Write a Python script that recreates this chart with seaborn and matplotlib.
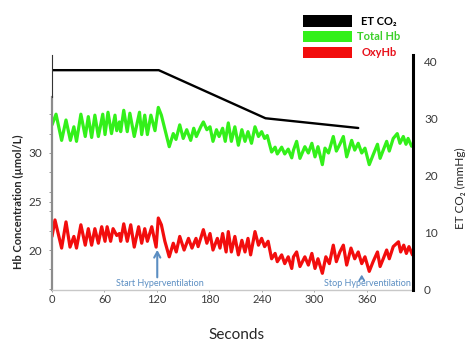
import numpy as np
import pandas as pd
import seaborn as sns
import matplotlib
matplotlib.use("Agg")
import matplotlib.pyplot as plt
from matplotlib.patches import Rectangle

# ---------------- data ----------------
green_t = [0, 4.6, 11, 16, 21, 25, 28, 33, 38, 41.5, 45.3, 49, 53, 58, 60.6, 64, 68, 72, 74, 77,
           78.5, 82, 86, 89, 94, 100, 102.5, 106, 109, 113, 117.7, 121.5, 125, 134, 138.6, 141.7,
           146, 150, 154, 158.5, 162, 165, 170, 173, 177, 180.6, 184, 188, 191, 195, 198, 201.5,
           205, 209, 213, 217, 220.6, 224, 228, 232, 236, 239.6, 243, 246, 251, 255, 257.5, 262.5,
           266, 270, 274, 276, 279.6, 283.4, 289, 293, 297, 300.6, 304, 309, 312, 316, 321.5, 325,
           329, 333, 336.8, 342.5, 346, 350, 354, 357.7, 362.6, 367, 372, 375, 378.6, 382.5, 385.5,
           390, 394.6, 397.7, 401.5, 404.6, 407, 411]
total_hb = [32.9, 34.0, 31.3, 33.4, 31.3, 32.7, 31.2, 34.0, 31.7, 33.75, 31.6, 33.9, 31.7, 34.0,
            31.9, 34.2, 32.0, 33.9, 32.3, 33.2, 32.2, 34.4, 32.2, 34.1, 31.7, 34.2, 31.9, 33.9,
            31.9, 33.9, 32.3, 34.7, 33.9, 30.65, 32.0, 31.4, 32.9, 31.5, 32.4, 31.3, 32.55, 31.7,
            32.7, 33.2, 32.4, 32.7, 31.2, 32.4, 31.7, 32.55, 31.2, 33.1, 31.2, 32.7, 30.8, 32.4,
            31.2, 32.2, 31.0, 32.7, 31.7, 32.2, 31.5, 31.8, 30.1, 30.6, 29.9, 30.6, 29.9, 30.4,
            29.5, 30.3, 31.2, 29.45, 30.65, 30.0, 31.0, 29.6, 30.65, 28.8, 30.5, 30.0, 31.7, 30.2,
            30.9, 31.7, 29.6, 31.3, 30.3, 31.0, 30.0, 30.5, 28.8, 29.8, 30.9, 29.45, 30.3, 31.2,
            30.2, 31.5, 32.0, 31.0, 31.7, 30.9, 31.5, 30.7]

red_t = [0, 3.4, 11, 16, 20.6, 25, 28, 33, 38, 41.5, 45.3, 49, 53, 56.8, 60.6, 63, 67, 69.8, 74, 77,
         78.5, 82, 86, 90, 94, 99, 102.5, 106, 109, 114, 119, 121.5, 125, 129, 134, 138.6, 142, 146,
         151, 156, 160, 164.6, 167, 173, 177, 180.6, 184, 189, 192, 195, 199, 201.5, 205, 209, 213,
         217, 220.6, 224, 227, 232, 236, 239.6, 243, 247, 251, 255, 257.5, 262.5, 266, 270, 274, 276,
         279.6, 283.4, 289, 293, 297, 300.6, 304, 309, 313, 317, 321.5, 325, 329, 333, 336.8, 341.7,
         346, 350, 354, 357.7, 362.6, 367, 372, 375, 378.6, 382.5, 385.5, 390, 396, 398.5, 402, 405,
         408, 412]
oxy_hb = [21.4, 23.1, 20.2, 22.9, 20.3, 21.4, 20.2, 22.6, 20.5, 22.2, 20.5, 22.2, 20.7, 22.4, 20.9,
          22.4, 20.9, 22.2, 21.5, 21.7, 20.9, 22.7, 20.9, 22.6, 20.3, 22.4, 20.7, 22.2, 20.9, 22.4,
          20.3, 23.3, 22.6, 20.9, 19.3, 20.7, 19.8, 21.4, 20.0, 21.2, 20.2, 21.2, 20.35, 22.1, 20.7,
          21.7, 20.0, 21.2, 20.2, 21.7, 19.8, 21.9, 19.8, 21.4, 19.5, 21.0, 19.8, 21.2, 19.5, 21.9,
          20.5, 21.2, 20.35, 20.9, 19.1, 19.65, 18.8, 19.5, 18.6, 19.3, 18.1, 19.3, 19.8, 18.3, 19.3,
          18.45, 19.65, 18.1, 19.1, 17.6, 19.3, 18.6, 20.5, 18.8, 19.8, 20.5, 18.45, 20.2, 19.1, 19.8,
          18.6, 19.3, 17.8, 18.8, 19.8, 18.3, 19.1, 20.0, 19.1, 20.35, 20.85, 19.8, 20.5, 19.65,
          20.35, 19.5]

co2_t = [0, 122, 244, 350]
et_co2 = [38.4, 38.4, 30.0, 28.3]

x_ticks = [0, 60, 120, 180, 240, 300, 360]
hb_ticks = [20, 25, 30]
co2_ticks = [0, 10, 20, 30, 40]
legend_labels = ["ET CO\u2082", "Total Hb", "OxyHb"]
event_labels = ["Start Hyperventilation", "Stop Hyperventilation"]
event_arrow_t = [120.3, 354]
event_text_t = [123, 360]

# ---------------- styling ----------------
sns.set_style("white")
plt.rcParams["font.family"] = ["Lato", "DejaVu Sans"]

GREEN = "#33f01a"
RED = "#f20d0d"
BLUE = "#5b8ec2"
TXT = "#3a3a3a"

W, H = 474, 354
fig = plt.figure(figsize=(W / 100, H / 100), dpi=100)


def fx(x):
    return x / W


def fy(y):
    return 1 - y / H


ax = fig.add_axes([fx(52), fy(290), fx(413) - fx(52), fy(55) - fy(290)])
ax2 = ax.twinx()

df_g = pd.DataFrame({"t": green_t, "v": total_hb})
df_r = pd.DataFrame({"t": red_t, "v": oxy_hb})
df_c = pd.DataFrame({"t": co2_t, "v": et_co2})

sns.lineplot(data=df_g, x="t", y="v", ax=ax, color=GREEN, lw=2.3, estimator=None, sort=False)
sns.lineplot(data=df_r, x="t", y="v", ax=ax, color=RED, lw=2.3, estimator=None, sort=False)
sns.lineplot(data=df_c, x="t", y="v", ax=ax2, color="black", lw=1.7, estimator=None, sort=False)

ax.set_xlim(0, 412.6)
ax.set_ylim(15.88, 40.1)
ax2.set_ylim(0, 41.05)

ax.set_xlabel("")
ax.set_ylabel("")
ax2.set_ylabel("")

# spines
for s in ["top", "right"]:
    ax.spines[s].set_visible(False)
ax.spines["left"].set_color("#8c8c8c")
ax.spines["left"].set_linewidth(1.6)
ax.spines["left"].set_bounds(15.88, 35.8)
ax.spines["bottom"].set_color("#c8c8c8")
ax.spines["bottom"].set_linewidth(1.0)

ax2.spines["top"].set_visible(False)
ax2.spines["bottom"].set_visible(False)
ax2.spines["left"].set_visible(True)
ax2.spines["left"].set_color("#333333")
ax2.spines["left"].set_linewidth(0.8)
ax2.spines["left"].set_bounds(33.7, 41.05)
ax2.spines["right"].set_color("black")
ax2.spines["right"].set_linewidth(2.2)

# ticks
ax.set_xticks(x_ticks)
ax.set_xticklabels([str(v) for v in x_ticks])
ax.tick_params(axis="x", length=1.5, width=0.6, color="#999999", pad=1.5, labelsize=8, labelcolor=TXT, direction="out", bottom=True)
ax.set_yticks(hb_ticks)
ax.set_yticklabels([str(v) for v in hb_ticks])
ax.set_yticks(np.arange(16, 35, 2), minor=True)
ax.tick_params(axis="y", which="major", length=2, width=0.6, color="#888888", pad=5, labelsize=8.5, labelcolor=TXT, left=True)
ax.tick_params(axis="y", which="minor", length=2, width=0.6, color="#888888", left=True)

ax2.set_yticks(co2_ticks)
ax2.set_yticklabels([str(v) for v in co2_ticks])
ax2.tick_params(axis="y", length=0, pad=8, labelsize=8.5, labelcolor=TXT)

# axis titles
fig.text(fx(18), fy(202), "Hb Concentration (\u00b5mol/L)", rotation=90, ha="center", va="center",
         fontsize=8, fontweight="bold", color="#262626")
fig.text(fx(460), fy(188), "ET CO\u2082 (mmHg)", rotation=90, ha="center", va="center",
         fontsize=8.5, color="#262626")
fig.text(fx(237), fy(335), "Seconds", ha="center", va="center", fontsize=11, color="#262626")

# event annotations
ax.annotate("", xy=(event_arrow_t[0], 20.3), xytext=(event_arrow_t[0], 16.9),
            arrowprops=dict(arrowstyle="->,head_length=0.4,head_width=0.22", color=BLUE, lw=1.5))
ax.annotate("", xy=(event_arrow_t[1], 17.75), xytext=(event_arrow_t[1], 16.75),
            arrowprops=dict(arrowstyle="->,head_length=0.3,head_width=0.18", color=BLUE, lw=1.3))
for lab, tt in zip(event_labels, event_text_t):
    ax.text(tt, 16.6, lab, ha="center", va="center", fontsize=6.5, color=BLUE)

# legend (manual)
leg_colors = ["black", GREEN, RED]
leg_text_colors = ["black", "#3ccf2a", "#e8101a"]
leg_y = [(15, 27), (31, 42), (47, 58)]
for (y0, y1), c, tc, lab in zip(leg_y, leg_colors, leg_text_colors, legend_labels):
    fig.patches.append(Rectangle((fx(303), fy(y1)), fx(352) - fx(303), (y1 - y0) / H,
                                 transform=fig.transFigure, facecolor=c, edgecolor="none"))
    fig.text(fx(379), fy((y0 + y1) / 2), lab, ha="center", va="center", fontsize=8,
             fontweight="bold", color=tc)

fig.savefig("out.png", dpi=100)
